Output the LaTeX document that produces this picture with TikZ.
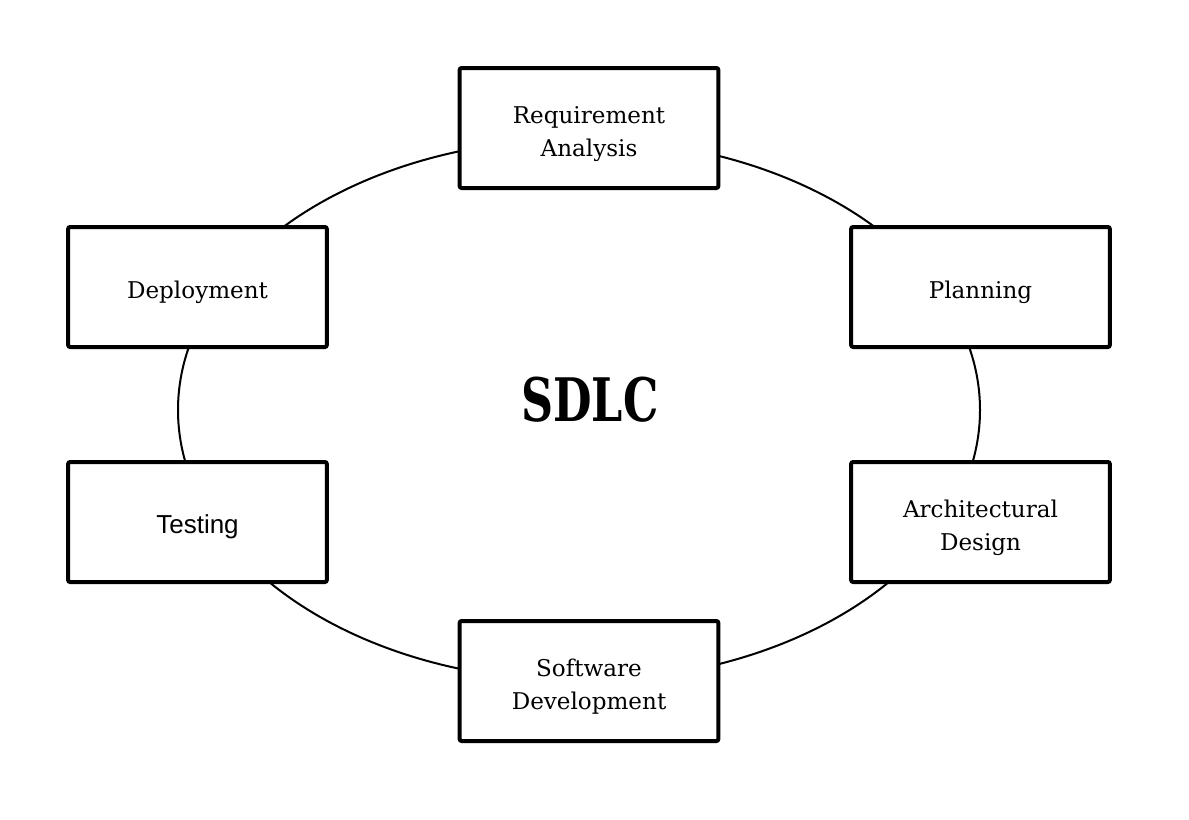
\documentclass[tikz,border=0pt]{standalone}
\usepackage{fontspec}
\usepackage{graphicx}
\setmainfont{DejaVu Serif}
\newfontfamily\arialfont{Liberation Sans}
\begin{document}
\begin{tikzpicture}[x=0.75pt,y=0.75pt,yscale=-1,xscale=1,
    phase/.style={draw, line width=3pt, fill=white, rounded corners=1.5pt,
      minimum width=194pt, minimum height=90pt, align=center, text height=21.5pt,
      font=\fontsize{17.3}{24.75}\selectfont},
    twoline/.style={text height=47pt},
    cycleline/.style={line width=1.5pt}]
        \useasboundingbox (0,0) rectangle (1189,819);
        % the loop behind the phases
        \draw [cycleline] (579,410) ellipse [x radius=401, y radius=271];

        \node [phase, twoline] (req) at (589,128) {Requirement\\Analysis};
        \node [phase] (plan) at (980.5,287) {Planning};
        \node [phase, twoline] (arch) at (980.5,522) {Architectural\\Design};
        \node [phase, twoline] (soft) at (589,681) {Software\\Development};
        \node [phase, font=\arialfont\fontsize{19.5}{24}\selectfont] (test) at (197.5,522) {Testing};
        \node [phase] (depl) at (197.5,287) {Deployment};

        \node [inner sep=0pt, font=\bfseries\fontsize{45}{50}\selectfont] (sdlc) at (590,400) {\scalebox{0.74}[1]{SDLC}};
\end{tikzpicture}
\end{document}
